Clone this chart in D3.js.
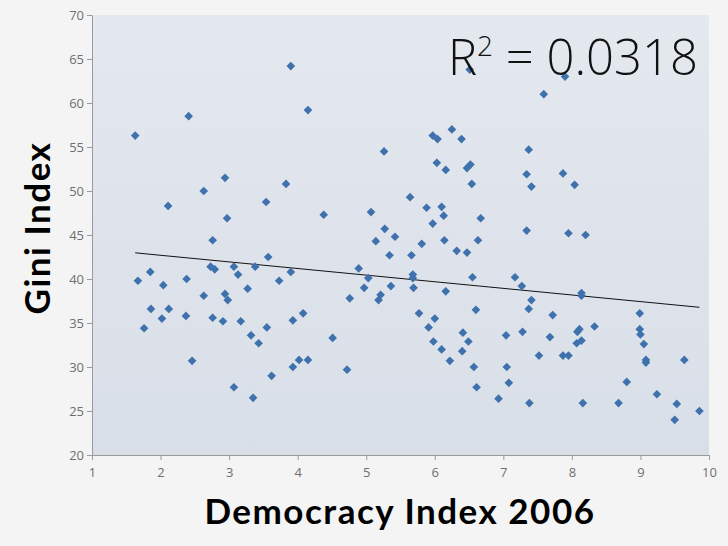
<!DOCTYPE html>
<html><head><meta charset="utf-8">
<script src="https://cdn.jsdelivr.net/npm/d3@7"></script>
<style>body{margin:0;background:#f4f4f4;}svg{display:block;}</style>
</head><body>
<svg id="chart" width="728" height="546"></svg>
<script>
// democracy index 2006 (x) vs gini index (y)
var democracy = [3.90,4.15,2.41,1.63,2.94,3.83,2.63,3.54,2.11,2.97,2.76,3.57,2.73,2.79,3.07,3.38,3.13,1.85,3.90,1.67,2.38,2.04,3.73,3.27,2.63,2.94,2.98,1.86,2.12,2.02,2.37,2.76,2.91,3.17,3.93,4.08,1.76,3.55,3.32,3.43,2.46,4.02,4.15,3.93,3.62,3.07,3.35,
6.51,6.25,5.97,6.04,6.39,5.26,6.03,6.16,6.47,6.52,6.54,5.64,5.88,6.10,6.13,6.67,4.38,5.07,5.97,5.27,5.42,5.14,5.81,6.14,6.63,6.32,6.47,5.34,5.66,4.89,5.03,4.97,5.36,5.68,5.68,5.69,6.55,6.16,7.17,4.76,5.18,5.21,5.77,6.60,6.00,5.91,6.41,6.49,5.98,6.10,6.40,7.04,6.22,4.51,4.72,6.57,7.05,7.08,6.61,6.93,
7.90,7.59,7.37,7.34,7.41,7.87,8.04,7.34,7.95,8.20,7.27,7.41,7.37,7.72,8.14,8.14,7.28,7.68,8.08,8.11,8.07,8.14,8.33,7.52,7.87,7.95,7.38,8.16,8.68,8.80,8.99,8.99,9.00,9.05,9.08,9.08,9.24,9.53,9.50,9.64,9.86];
var gini = [64.2,59.2,58.5,56.3,51.5,50.8,50.0,48.75,48.3,46.9,44.4,42.5,41.4,41.1,41.4,41.4,40.5,40.8,40.8,39.8,40.0,39.3,39.8,38.9,38.1,38.3,37.6,36.6,36.6,35.5,35.8,35.6,35.2,35.2,35.3,36.1,34.4,34.5,33.6,32.7,30.7,30.8,30.8,30.0,29.0,27.7,26.5,
63.8,57.0,56.3,55.9,55.9,54.5,53.2,52.4,52.6,53.0,50.8,49.3,48.1,48.2,47.2,46.9,47.3,47.6,46.3,45.7,44.8,44.3,44.0,44.4,44.4,43.2,43.0,42.7,42.7,41.2,40.1,39.0,39.2,40.5,40.1,39.0,40.2,38.6,40.2,37.8,37.6,38.2,36.1,36.5,35.5,34.5,33.9,32.9,32.9,32.0,31.8,33.6,30.7,33.3,29.7,30.0,30.0,28.2,27.7,26.4,
63.0,61.0,54.7,51.9,50.5,52.0,50.7,45.5,45.2,45.0,39.2,37.6,36.6,35.9,38.4,38.1,34.0,33.4,34.0,34.3,32.7,33.0,34.6,31.3,31.3,31.3,25.9,25.9,25.9,28.3,36.1,34.3,33.7,32.6,30.8,30.5,26.9,25.8,24.0,30.8,25.0];
var xTicks = [1,2,3,4,5,6,7,8,9,10];
var yTicks = [20,25,30,35,40,45,50,55,60,65,70];
// linear trendline y = a*x + b, shown with R^2
var trendX = [1.63, 9.86];
var trendA = -0.752, trendB = 44.2;
var rSquared = "0.0318";

var svg = d3.select("#chart");
var m = {l:92, r:709, t:15, b:455};
var x = d3.scaleLinear().domain([1,10]).range([m.l, m.r]);
var y = d3.scaleLinear().domain([20,70]).range([m.b, m.t]);

var grad = svg.append("defs").append("linearGradient").attr("id","bg")
	.attr("x1","0").attr("y1","0").attr("x2","0").attr("y2","1");
grad.append("stop").attr("offset","0").attr("stop-color","#e4e8ef");
grad.append("stop").attr("offset","1").attr("stop-color","#d9dfe8");
svg.append("rect").attr("x",m.l).attr("y",m.t).attr("width",m.r-m.l).attr("height",m.b-m.t).attr("fill","url(#bg)");

var ax = svg.append("g").attr("transform","translate(0,"+m.b+")")
	.call(d3.axisBottom(x).tickValues(xTicks).tickSize(5).tickSizeOuter(0));
var ay = svg.append("g").attr("transform","translate("+m.l+",0)")
	.call(d3.axisLeft(y).tickValues(yTicks).tickSize(5).tickSizeOuter(0));
[ax, ay].forEach(function(a){
	a.selectAll("path,line").attr("stroke","#9a9a9a");
	a.selectAll("text").attr("fill","#6f6f6f").style("font-family","Open Sans, sans-serif").style("font-size","13px");
});
ax.selectAll("text").attr("dy","1.1em");

svg.append("line")
	.attr("x1", x(trendX[0])).attr("y1", y(trendA*trendX[0]+trendB))
	.attr("x2", x(trendX[1])).attr("y2", y(trendA*trendX[1]+trendB))
	.attr("stroke","#111").attr("stroke-width",1);

svg.append("g").selectAll("path").data(democracy).enter().append("path")
	.attr("d", d3.symbol().type(d3.symbolDiamond2).size(48))
	.attr("transform", function(d,i){ return "translate("+x(d)+","+y(gini[i])+")"; })
	.attr("fill","#3f72ad");

var r2 = svg.append("text").attr("x",698).attr("y",75).attr("text-anchor","end")
	.style("font-family","Open Sans, sans-serif").style("font-weight","300").style("font-size","49px").attr("fill","#111");
r2.append("tspan").text("R");
r2.append("tspan").text("2").style("font-size","28px").attr("dy","-19");
r2.append("tspan").text(" = " + rSquared).attr("dy","19");

svg.append("text").attr("x",400).attr("y",524).attr("text-anchor","middle")
	.style("font-family","Lato, sans-serif").style("font-weight","bold").style("font-size","35px")
	.style("letter-spacing","1.5px").attr("fill","#000")
	.text("Democracy Index 2006");
svg.append("text").attr("transform","translate(50,228) rotate(-90)").attr("text-anchor","middle")
	.style("font-family","Lato, sans-serif").style("font-weight","bold").style("font-size","35px")
	.style("letter-spacing","1.5px").attr("fill","#000")
	.text("Gini Index");
</script>
</body></html>
